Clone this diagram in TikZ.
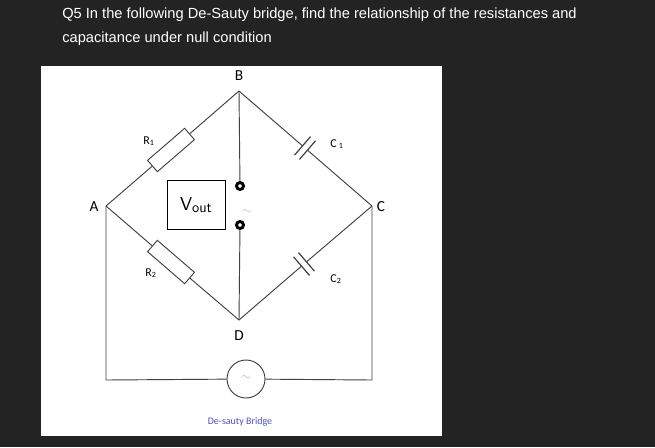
\documentclass[tikz,border=0pt]{standalone}
\usepackage{fontspec}
\setmainfont{Liberation Sans}
\newfontfamily\carlitofont{Carlito}
\begin{document}
\begin{tikzpicture}[x=0.75pt,y=-0.75pt,
  wire/.style={draw=black!75,line width=0.7pt},
  res/.style={draw=black!75,fill=white,line width=0.7pt,minimum width=49*0.75pt,minimum height=15*0.75pt,inner sep=0pt},
  capbox/.style={minimum width=6*0.75pt,minimum height=24*0.75pt,inner sep=0pt},
  lbl/.style={font=\carlitofont\fontsize{9}{9}\selectfont,inner sep=0pt},
  big/.style={font=\carlitofont\fontsize{11.5}{11.5}\selectfont,inner sep=0pt},
  term/.style={circle,draw=black,line width=2.2pt,minimum size=7*0.75pt,inner sep=0pt}]
\useasboundingbox (0,0) rectangle (655,447);
\fill[fill={rgb,255:red,35;green,35;blue,35}] (0,0) rectangle (655,447);
\fill[white] (41,66) rectangle (442,436);
\node[anchor=west,text=white,font=\fontsize{11}{13}\selectfont,inner sep=0pt] (t1) at (62,15) {Q5 In the following De-Sauty bridge, find the relationship of the resistances and};
\node[anchor=west,text=white,font=\fontsize{11}{13}\selectfont,inner sep=0pt] (t2) at (62,39) {capacitance under null condition};
\coordinate (A) at (106,206);
\coordinate (B) at (239,91);
\coordinate (C) at (372,206);
\coordinate (D) at (239,320);
\coordinate (BL) at (106,380);
\coordinate (BR) at (372,380);
\node[res,rotate=40.8] (r1) at (171,150) {};
\node[res,rotate=-40.8] (r2) at (171,262) {};
\node[capbox,rotate=-40.8] (c1) at (305,148) {};
\node[capbox,rotate=40.8] (c2) at (304,264) {};
\node[term] (ta) at (240,186) {};
\node[term] (tb) at (240,225) {};
\node[circle,draw=black!75,line width=0.7pt,minimum size=38*0.75pt,inner sep=0pt] (src) at (246,379) {};
\node[text=black!30] at (246,378) {$\sim$};
\node[text=black!25] (tl) at (247,212) {$\sim$};
\draw[wire] (A) -- (r1) -- (B) -- (c1) -- (C) -- (c2) -- (D) -- (r2) -- (A);
\draw[black!75,line width=0.9pt] (c1.north west) -- (c1.south west) (c1.north east) -- (c1.south east);
\draw[black!75,line width=0.9pt] (c2.north west) -- (c2.south west) (c2.north east) -- (c2.south east);
\draw[wire] (B) -- (ta);
\draw[wire] (tb) -- (D);
\draw[wire] (A) -- (BL) -- (src) -- (BR) -- (C);
\node[draw=black,line width=0.7pt,minimum width=58*0.75pt,minimum height=49*0.75pt,inner sep=0pt] (vout) at (196,205) {};
\node[font=\sffamily\fontsize{14}{14}\selectfont] at (vout) {V\raisebox{-0.3ex}{\fontsize{11}{11}\selectfont out}};
\node[big] at (239,76) {B};
\node[big] at (94,207) {A};
\node[big] at (381,207) {C};
\node[big] at (239,336) {D};
\node[lbl] at (149,141) {R\textsubscript{1}};
\node[lbl] at (151,273) {R\textsubscript{2}};
\node[lbl] at (337,144) {C\,\textsubscript{1}};
\node[lbl] at (336,279) {C\textsubscript{2}};
\node[font=\carlitofont\fontsize{7.5}{7.5}\selectfont,text={rgb,255:red,80;green,80;blue,200}] at (240,422) {De-sauty Bridge};
\end{tikzpicture}
\end{document}
